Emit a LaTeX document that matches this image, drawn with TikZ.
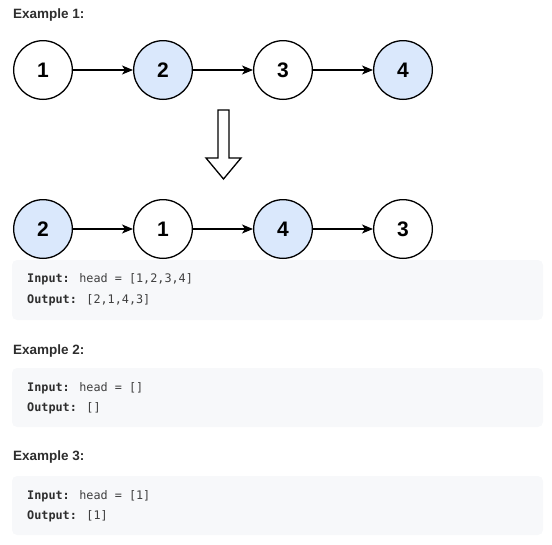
\documentclass[tikz,border=0pt]{standalone}
\usepackage{fontspec}
\newfontfamily\headfont{Liberation Sans}
\newfontfamily\codefont{DejaVu Sans Mono}
\usepackage{tikz}
\usetikzlibrary{arrows.meta}
\definecolor{nodeblue}{HTML}{DAE8FC}
\definecolor{codebg}{HTML}{F7F8FA}
\definecolor{headtext}{HTML}{2E2E2E}
\definecolor{codetext}{HTML}{3F3F3F}

\begin{document}
\begin{tikzpicture}[x=1pt, y=-1pt, every node/.style={inner sep=0pt},
  listnode/.style={circle, draw, line width=1.3pt, minimum size=58.7pt, font=\headfont\bfseries\fontsize{21}{24}\selectfont},
  link/.style={line width=1.3pt, -{Stealth[length=11pt,width=9pt,inset=3pt]}},
  heading/.style={anchor=base west, text=headtext, font=\headfont\bfseries\fontsize{13.5}{16}\selectfont},
  code/.style={anchor=base west, text=codetext, font=\codefont\fontsize{11.8}{14}\selectfont}]
  \useasboundingbox (0,0) rectangle (552,544);

  \node[heading] (ex1) at (13,18) {Example 1:};

  \node[listnode] (a1) at (43,70) {1};
  \node[listnode, fill=nodeblue] (a2) at (163,70) {2};
  \node[listnode] (a3) at (283,70) {3};
  \node[listnode, fill=nodeblue] (a4) at (403,70) {4};
  \draw[link] (a1) -- (a2); \draw[link] (a2) -- (a3); \draw[link] (a3) -- (a4);

  \draw[line width=1.3pt, line join=miter] (218,110) -- (229,110) -- (229,158) -- (241,158)
    -- (223.5,179) -- (206,158) -- (218,158) -- cycle;

  \node[listnode, fill=nodeblue] (b2) at (43,229) {2};
  \node[listnode] (b1) at (163,229) {1};
  \node[listnode, fill=nodeblue] (b4) at (283,229) {4};
  \node[listnode] (b3) at (403,229) {3};
  \draw[link] (b2) -- (b1); \draw[link] (b1) -- (b4); \draw[link] (b4) -- (b3);

  \fill[codebg, rounded corners=5pt] (12,260) rectangle (543,320);
  \node[code] (in1) at (27,282.5) {{\bfseries\color{headtext}Input:} head = [1,2,3,4]};
  \node[code] (out1) at (27,303) {{\bfseries\color{headtext}Output:} [2,1,4,3]};

  \node[heading] (ex2) at (13,354) {Example 2:};
  \fill[codebg, rounded corners=5pt] (12,368) rectangle (543,427);
  \node[code] (in2) at (27,391) {{\bfseries\color{headtext}Input:} head = []};
  \node[code] (out2) at (27,411.5) {{\bfseries\color{headtext}Output:} []};

  \node[heading] (ex3) at (13,460) {Example 3:};
  \fill[codebg, rounded corners=5pt] (12,476) rectangle (543,535);
  \node[code] (in3) at (27,499) {{\bfseries\color{headtext}Input:} head = [1]};
  \node[code] (out3) at (27,519.5) {{\bfseries\color{headtext}Output:} [1]};
\end{tikzpicture}
\end{document}
